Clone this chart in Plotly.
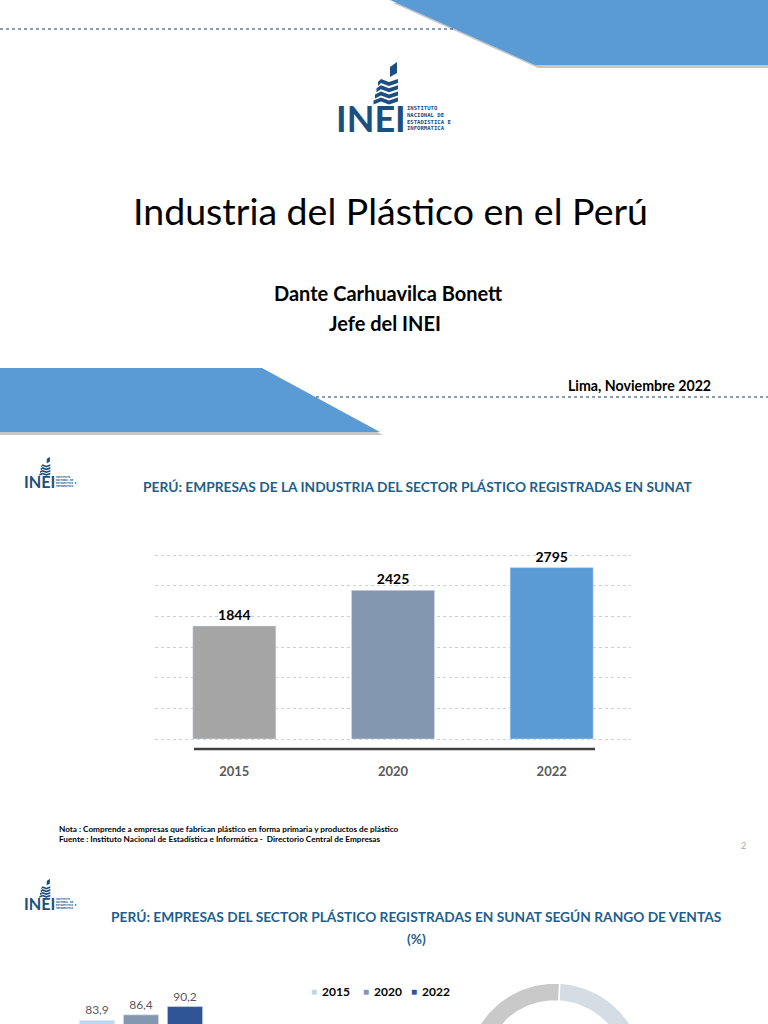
import plotly.graph_objects as go
import numpy as np

W, H = 768, 1024
def X(px): return px / W
def Y(py): return 1 - py / H

# ---------------- data ----------------
years = ["2015", "2020", "2022"]
companies = [1844, 2425, 2795]
bar_colors = ["#a5a5a5", "#8497b0", "#5b9bd5"]

sales_years = ["2015", "2020", "2022"]
sales_category = ["Micro"]
sales_share = [83.9, 86.4, 90.2]
sales_colors = ["#bdd7ee", "#8497b0", "#2f5597"]

donut_labels = ["Rango A", "Rango B"]
donut_values = [50.0, 50.0]
donut_colors = ["#d6dce4", "#c9c9c9"]

FONT = "Lato, 'Noto Sans', Arial, sans-serif"
TITLE_BLUE = "#1f5f8b"
LOGO_BLUE = "#1b4f80"

fig = go.Figure()

# ---------------- main bar chart ----------------
fig.add_trace(go.Bar(
    x=years, y=companies, marker_color=bar_colors, width=0.524,
    text=[str(v) for v in companies], textposition="outside",
    textfont=dict(size=14, color="#000000", family=FONT, weight="bold"),
    cliponaxis=False, showlegend=False, hoverinfo="skip",
    xaxis="x", yaxis="y"))

# ---------------- slide 3 bars ----------------
for yr, v, c in zip(sales_years, sales_share, sales_colors):
    fig.add_trace(go.Bar(
        x=sales_category, y=[v], name=yr, marker_color=c,
        text=[f"{v:.1f}".replace(".", ",")], textposition="outside",
        textfont=dict(size=12, color="#595959", family=FONT),
        showlegend=False, hoverinfo="skip", xaxis="x2", yaxis="y2"))

# ---------------- donut (partially visible) ----------------
cx, cy, R, r = 555, 1072, 89, 71
rot = 3.0
tot = sum(donut_values)
start = rot
for lab, v, c in zip(donut_labels, donut_values, donut_colors):
    end = start + 360 * v / tot
    th = np.radians(np.linspace(start, end, 120))
    xo = cx + R * np.sin(th); yo = cy - R * np.cos(th)
    xi = cx + r * np.sin(th[::-1]); yi = cy - r * np.cos(th[::-1])
    fig.add_trace(go.Scatter(
        x=np.concatenate([xo, xi, xo[:1]]), y=np.concatenate([yo, yi, yo[:1]]),
        fill="toself", fillcolor=c, mode="lines", line=dict(color="white", width=1.5),
        showlegend=False, hoverinfo="skip", xaxis="x3", yaxis="y3"))
    start = end

# ---------------- layout ----------------
# y range padded slightly so that the 0 and 3000 gridlines are drawn
pad = 3000 * 2 / 184
fig.update_layout(
    width=W, height=H, margin=dict(l=0, r=0, t=0, b=0),
    paper_bgcolor="white", plot_bgcolor="rgba(0,0,0,0)",
    barmode="group", bargap=0.34, bargroupgap=0.2,
    font=dict(family=FONT),
    xaxis=dict(domain=[X(155), X(631)], range=[-0.5, 2.5], type="category",
               showgrid=False, showline=False, zeroline=False,
               ticks="outside", ticklen=18, tickcolor="rgba(0,0,0,0)",
               tickfont=dict(size=13, color="#595959", family=FONT, weight="bold")),
    yaxis=dict(domain=[Y(741), Y(553)], range=[-pad, 3000 + pad], dtick=500,
               tick0=0,
               showgrid=True, gridcolor="#d0d0d0", griddash="dot", gridwidth=1,
               zeroline=False, showline=False, showticklabels=False),
    xaxis2=dict(domain=[X(41), X(241)], range=[-0.5, 0.5], type="category",
                visible=False),
    yaxis2=dict(domain=[0, Y(980)], range=[82.2, 102.4], visible=False),
    xaxis3=dict(domain=[X(430), X(690)], range=[430, 690], visible=False),
    yaxis3=dict(domain=[0, Y(975)], range=[1024, 975], visible=False),
)

shapes = []
anns = []

def poly(pts, color, layer="above"):
    d = "M " + " L ".join(f"{X(a):.5f},{Y(b):.5f}" for a, b in pts) + " Z"
    shapes.append(dict(type="path", path=d, xref="paper", yref="paper",
                       fillcolor=color, line=dict(width=0), layer=layer))

def hline(x0, x1, y, color, width, dash="solid"):
    shapes.append(dict(type="line", xref="paper", yref="paper",
                       x0=X(x0), x1=X(x1), y0=Y(y), y1=Y(y),
                       line=dict(color=color, width=width, dash=dash)))

def text(t, x, y, size, color="#000000", bold=False, xanchor="center", family=FONT):
    anns.append(dict(text=t, x=X(x), y=Y(y), xref="paper", yref="paper",
                     showarrow=False, xanchor=xanchor, yanchor="middle",
                     font=dict(size=size, color=color, family=family,
                               weight="bold" if bold else "normal")))

# slide 1 decorations
poly([(393, 3), (768, 3), (768, 68), (538, 68)], "rgba(0,0,0,0.22)")
poly([(390, 0), (768, 0), (768, 65), (535, 65)], "#5b9bd5")
hline(0, 453, 29, "#1f3864", 1.2, "dot")
poly([(0, 371), (265, 371), (383, 435), (0, 435)], "rgba(0,0,0,0.22)")
poly([(0, 368), (262, 368), (380, 432), (0, 432)], "#5b9bd5")
hline(316, 768, 397, "#1f3864", 1.2, "dot")

def logo(x0, y0, s):
    # x0,y0 : top-left of the "INEI" letters (px), s: scale
    ix, iy = x0 + 37 * s, y0 - 43 * s
    poly([(ix + 18 * s, iy + 5 * s), (ix + 25 * s, iy + 0 * s),
          (ix + 25 * s, iy + 11 * s), (ix + 18 * s, iy + 15 * s)], LOGO_BLUE)
    for i in range(4):
        yt = iy + (17 + i * 6.2) * s
        xl = ix + (4 - i) * 1.5 * s
        poly([(xl, yt + 3 * s), (ix + 9 * s, yt), (ix + 17 * s, yt + 3 * s),
              (ix + 26 * s, yt), (ix + 26 * s, yt + 4 * s), (ix + 17 * s, yt + 7 * s),
              (ix + 9 * s, yt + 4 * s), (xl, yt + 7 * s)], LOGO_BLUE)
    text("INEI", x0 - 1 * s, y0 + 13 * s, 36 * s, LOGO_BLUE, True, "left")
    lines = ["INSTITUTO", "NACIONAL DE", "ESTADISTICA E", "INFORMATICA"]
    for k, ln in enumerate(lines):
        text(ln, x0 + 70 * s, y0 + (3 + k * 6.8) * s, max(5.6 * s, 2.6), LOGO_BLUE, True,
             "left", "'DejaVu Sans Mono', monospace")

logo(335, 105, 1.0)
text("Industria del Plástico en el Perú", 390, 210, 37.5, "#000000", False)
text("Dante Carhuavilca Bonett", 388, 293, 20, "#000000", True)
text("Jefe del INEI", 385, 323, 20, "#000000", True)
text("Lima, Noviembre 2022", 713, 385, 14.2, "#000000", True, "right")

# slide 2
logo(22, 476, 0.45)
text("PERÚ: EMPRESAS DE LA INDUSTRIA DEL SECTOR PLÁSTICO REGISTRADAS EN SUNAT",
     417, 486, 13.75, TITLE_BLUE, True)
hline(194, 595, 749, "#404040", 2.5)
text("Nota : Comprende a empresas que fabrican plástico en forma primaria y productos de plástico",
     57, 829, 8.2, "#000000", True, "left")
text("Fuente : Instituto Nacional de Estadística e Informática -  Directorio Central de Empresas",
     57, 839, 8.2, "#000000", True, "left")
text("2", 743, 845, 9, "#a6a6a6", False)

# slide 3
logo(22, 898, 0.45)
text("PERÚ: EMPRESAS DEL SECTOR PLÁSTICO REGISTRADAS EN SUNAT SEGÚN RANGO DE VENTAS",
     416, 916, 13.75, TITLE_BLUE, True)
text("(%)", 416, 938, 13.75, TITLE_BLUE, True)
leg_x = [314, 366, 414]
for lx, yr, c in zip(leg_x, sales_years, sales_colors):
    text("■", lx, 991, 10, c, False)
    text(yr, lx + 6, 991, 12, "#000000", True, "left")

fig.update_layout(shapes=shapes, annotations=anns)
fig.write_html("out.html")
